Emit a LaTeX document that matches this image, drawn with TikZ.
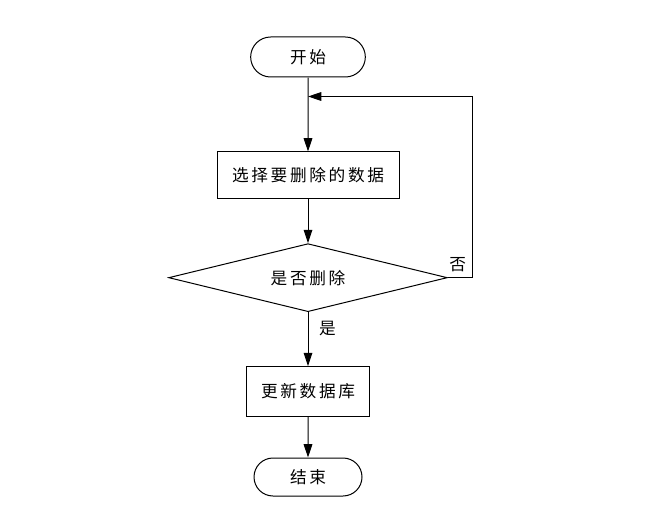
\documentclass[tikz,border=0pt]{standalone}
\usepackage{fontspec}
\usepackage{tikz}
\usetikzlibrary{arrows.meta,positioning,shapes.geometric,shapes.misc}
\newfontfamily\cjk[LetterSpace=16]{Noto Sans CJK SC}
\tikzset{
  terminal/.style={
    rounded rectangle,draw=black,line width=0.75pt,fill=white,
    minimum width=86pt,minimum height=30pt,inner sep=0pt,
    font=\cjk\fontsize{12.5pt}{14pt}\selectfont
  },
  process/.style={
    rectangle,draw=black,line width=0.75pt,fill=white,
    minimum height=35pt,inner sep=0pt,
    font=\cjk\fontsize{12.5pt}{14pt}\selectfont
  },
  decision/.style={
    diamond,aspect=4,draw=black,line width=0.75pt,fill=white,
    minimum width=209pt,minimum height=51pt,inner sep=0pt,
    font=\cjk\fontsize{12.5pt}{14pt}\selectfont
  },
  arrow/.style={-{Triangle[length=10pt,width=6.5pt]},line width=0.75pt,draw=black},
  tag/.style={inner sep=1pt,font=\cjk\fontsize{12.5pt}{14pt}\selectfont}
}
\begin{document}
\begin{tikzpicture}
      \useasboundingbox (0,0) rectangle (498pt,-379.5pt);
      \node[terminal] (start) at (231pt,-42.75pt) {开始};
      \coordinate[below=14.25pt of start] (merge);
      \node[process,minimum width=136.5pt,below=55.5pt of start] (select) {选择要删除的数据};
      \node[decision,below=33pt of select] (check) {是否删除};
      \node[process,minimum width=92pt,minimum height=37pt,below=40.5pt of check] (update) {更新数据库};
      \node[terminal,minimum width=81pt,minimum height=28.5pt,below=30.75pt of update] (stop) {结束};
      \draw[arrow] (start) -- (select);
      \draw[arrow] (select) -- (check);
      \draw[arrow] (check) -- node[tag,right=7pt,pos=0.3] (yes) {是} (update);
      \draw[arrow] (update) -- (stop);
      \draw[arrow] (check.east) -- ++(18.75pt,0) |- (merge);
      \node[tag,above right=3pt and 0pt of check.east] (no) {否};
    \end{tikzpicture}
\end{document}
